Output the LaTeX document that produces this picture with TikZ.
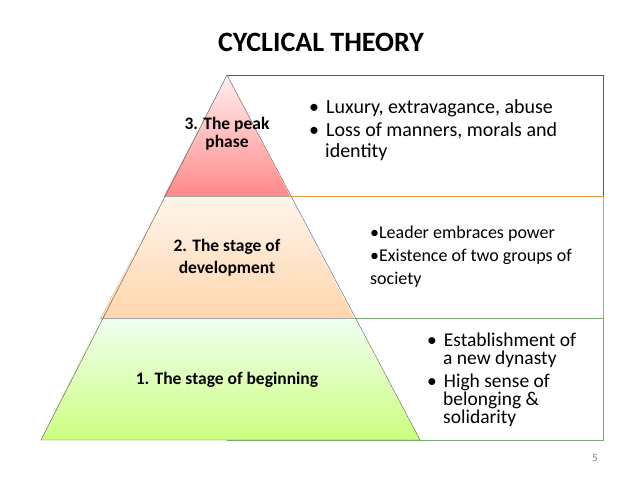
\documentclass[tikz,border=0pt]{standalone}
\usepackage{fontspec}
\setmainfont{Carlito}
\begin{document}
\begin{tikzpicture}[x=1pt,y=-1pt,
  lab/.style={font=\bfseries\fontsize{17.5}{22}\selectfont,align=center},
  txt/.style={font=\fontsize{#1}{23}\selectfont,anchor=north west,align=left}]
\useasboundingbox (0,0) rectangle (638,479);
\node[font=\bfseries\fontsize{28}{30}\selectfont] (title) at (321,42) {CYCLICAL THEORY};
% boxes
\draw[draw=red!45!black!75,line width=0.6pt] (227,75) rectangle (603,196);
\draw[draw=orange!60!brown!80,line width=0.6pt] (227,196) rectangle (603,318);
\draw[draw=green!40!black!55,line width=0.6pt] (227,318) rectangle (603,440);
% tiers
\shade[top color=red!6,bottom color=red!35!pink!90] (227,75) -- (290,196) -- (164,196) -- cycle;
\shade[top color=orange!8,bottom color=orange!32] (164,196) -- (290,196) -- (354,318) -- (100,318) -- cycle;
\shade[top color=green!6!white,bottom color=green!40!yellow!50] (100,318) -- (354,318) -- (420,440) -- (41,440) -- cycle;
\draw[gray!70!black,line width=0.4pt] (227,75) -- (420,440) -- (41,440) -- cycle;
\draw[gray!70,line width=0.4pt] (164,196) -- (290,196) (100,318) -- (354,318);
\node[lab] (t3) at (227,134) {3. The peak\\[-4pt]phase};
\node[lab] (t2) at (227,258) {2. The stage of\\development};
\node[lab] (t1) at (227,380) {1. The stage of beginning};
\node[txt=20,inner sep=0pt] (b3) at (309,99) {\textbullet\hspace{7pt}Luxury, extravagance, abuse\\\textbullet\hspace{7pt}Loss of manners, morals and\\[-2pt]\hspace{16pt}identity};
\node[txt=18,inner sep=0pt] (b2) at (370,226) {\textbullet Leader embraces power\\\textbullet Existence of two groups of\\society};
\node[txt=19.5,inner sep=0pt] (b1) at (427,333) {\textbullet\hspace{7pt}Establishment of\\[-5pt]\hspace{16pt}a new dynasty\\\textbullet\hspace{7pt}High sense of\\[-5pt]\hspace{16pt}belonging \&\\[-5pt]\hspace{16pt}solidarity};
\node[font=\fontsize{11}{12}\selectfont,text=gray] (pg) at (595,458) {5};
\end{tikzpicture}
\end{document}
